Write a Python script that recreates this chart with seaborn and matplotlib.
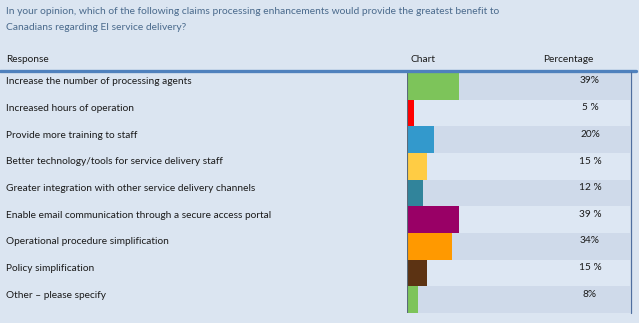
import matplotlib
matplotlib.use("Agg")
import matplotlib.pyplot as plt
import matplotlib.transforms as mtransforms
import seaborn as sns
import pandas as pd

responses = [
    "Increase the number of processing agents",
    "Increased hours of operation",
    "Provide more training to staff",
    "Better technology/tools for service delivery staff",
    "Greater integration with other service delivery channels",
    "Enable email communication through a secure access portal",
    "Operational procedure simplification",
    "Policy simplification",
    "Other \u2013 please specify",
]
values = [39, 5, 20, 15, 12, 39, 34, 15, 8]
pct_labels = ["39%", "5 %", "20%", "15 %", "12 %", "39 %", "34%", "15 %", "8%"]
colors = ["#7dc45a", "#ff0000", "#3399cc", "#ffcc44", "#31849b",
          "#990066", "#ff9900", "#5c3313", "#7dc45a"]
title_lines = [
    "In your opinion, which of the following claims processing enhancements would provide the greatest benefit to",
    "Canadians regarding EI service delivery?",
]

sns.set_theme(style="white")
plt.rcParams["font.family"] = ["Lato", "DejaVu Sans"]

W, H = 639, 323
bg = "#dbe5f1"
fig = plt.figure(figsize=(W / 100, H / 100), dpi=100, facecolor=bg)

def fx(px):
    return px / W

def fy(py):
    return 1 - py / H

# bar axes: x 407..630, y 73..313
top, bottom = 73, 313
ax = fig.add_axes([fx(407), fy(bottom), fx(630 - 407), (bottom - top) / H])
ax.set_facecolor("none")

df = pd.DataFrame({"Response": responses, "Value": values})
n = len(responses)
for i in range(n):
    c = "#cfdaea" if i % 2 == 0 else "#dde7f3"
    ax.axhspan(i - 0.5, i + 0.5, color=c, zorder=0, lw=0)

sns.barplot(data=df, x="Value", y="Response", hue="Response", palette=colors,
            orient="h", width=1.0, legend=False, ax=ax, zorder=2,
            linewidth=0, saturation=1)
ax.set_xlim(0, 167)
ax.set_ylim(n - 0.5, -0.5)
ax.set_xlabel("")
ax.set_ylabel("")
ax.set_xticks([])
ax.set_yticks([])
for s in ax.spines.values():
    s.set_visible(False)
ax.axvline(0, color="#5a6a7a", lw=0.8, zorder=3)

trans = mtransforms.blended_transform_factory(fig.transFigure, ax.transData)
for i, (r, p) in enumerate(zip(responses, pct_labels)):
    fig.text(fx(6), i - 0.17, r, transform=trans, fontsize=7.3,
             color="#1a1a1a", va="center", ha="left")
    fig.text(fx(590), i - 0.2, p, transform=trans, fontsize=7.3,
             color="#1a1a1a", va="center", ha="center")

# title
fig.text(fx(6), fy(11), title_lines[0], fontsize=7.4, color="#4a6a8c",
         va="center", ha="left")
fig.text(fx(6), fy(28), title_lines[1], fontsize=7.4, color="#4a6a8c",
         va="center", ha="left")

# header
fig.text(fx(6), fy(60), "Response", fontsize=7.3, color="#1a1a1a", va="center")
fig.text(fx(410), fy(60), "Chart", fontsize=7.3, color="#1a1a1a", va="center")
fig.text(fx(568), fy(60), "Percentage", fontsize=7.3, color="#1a1a1a",
         va="center", ha="center")

# header rule and right border
fig.add_artist(plt.Line2D([0, fx(636)], [fy(71), fy(71)], color="#4f81bd",
                          lw=2.4, transform=fig.transFigure))
fig.add_artist(plt.Line2D([fx(630.5), fx(630.5)], [fy(72), fy(313)],
                          color="#4f6fa0", lw=0.9, transform=fig.transFigure))

fig.savefig("out.png", dpi=100, facecolor=bg)
